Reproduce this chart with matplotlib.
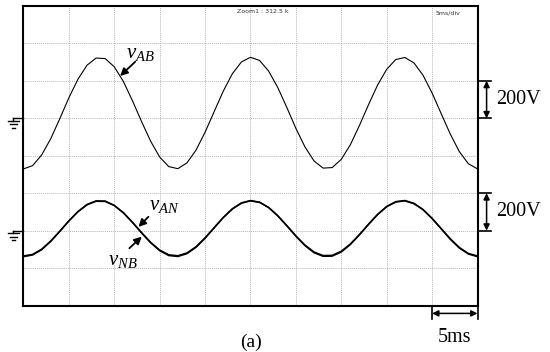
import numpy as np
import matplotlib
matplotlib.use('Agg')
import matplotlib.pyplot as plt

plt.rcParams['font.family'] = 'Liberation Serif'
plt.rcParams['mathtext.fontset'] = 'custom'
plt.rcParams['mathtext.rm'] = 'Liberation Serif'
plt.rcParams['mathtext.it'] = 'Liberation Serif:italic'

# scope trace samples (1 ms steps, volts)
t_ms = list(range(51))
v_ab = [-270, -253, -196, -109, -2, 110, 209, 284, 322, 319, 275, 197, 94, -17, -122, -207, -258,
        -269, -238, -170, -74, 36, 145, 238, 301, 326, 309, 252, 165, 58, -54, -153, -228, -266,
        -263, -219, -141, -38, 73, 178, 262, 314, 325, 296, 230, 135, 25, -84, -178, -243, -270]
v_an = [-139, -130, -102, -58, -4, 52, 102, 140, 159, 158, 135, 96, 44, -12, -65, -107, -133,
        -138, -123, -89, -41, 15, 70, 117, 148, 161, 152, 124, 80, 26, -30, -80, -118, -137,
        -136, -114, -74, -22, 34, 87, 129, 155, 161, 146, 113, 65, 10, -46, -93, -125, -139]
v_nb = [-135, -127, -99, -55, -3, 52, 101, 138, 157, 156, 134, 95, 45, -10, -62, -104, -129,
        -134, -119, -86, -38, 16, 70, 115, 147, 159, 151, 123, 79, 27, -28, -77, -114, -133,
        -132, -110, -71, -21, 34, 86, 128, 153, 159, 144, 112, 65, 11, -43, -90, -122, -135]

volts_per_div = 200
ms_per_div = 5
gnd_ch1 = 1
gnd_ch2 = -2

fig = plt.figure(figsize=(5.5, 3.52), dpi=100)
ax = fig.add_axes([0.0427, 0.132, 0.8255, 0.851])

ax.plot(t_ms, gnd_ch1 + np.array(v_ab) / volts_per_div, color='black', lw=0.8,
        solid_joinstyle='round')
ax.plot(t_ms, gnd_ch2 + np.array(v_an) / volts_per_div, color='black', lw=1.1,
        solid_joinstyle='round')
ax.plot(t_ms, gnd_ch2 + np.array(v_nb) / volts_per_div, color='black', lw=1.1,
        solid_joinstyle='round')

ax.set_xlim(0, 10 * ms_per_div)
ax.set_ylim(-4, 4)
ax.set_xticks(np.arange(0, 10 * ms_per_div + 1, ms_per_div))
ax.set_yticks(np.arange(-4, 5, 1))
ax.tick_params(length=0, labelbottom=False, labelleft=False)
ax.grid(True, color='#b8b8b8', ls=(0, (1, 1)), lw=0.7)
for s in ax.spines.values():
    s.set_linewidth(1.5)

# ground markers on the left
for g in (gnd_ch1, gnd_ch2):
    ax.plot([-1.1, 0], [g, g], color='black', lw=1.0, clip_on=False)
    ax.plot([-1.1, -1.1], [g, g - 0.07], color='black', lw=1.0, clip_on=False)
    for dy, hw in ((0.07, 0.58), (0.16, 0.36), (0.25, 0.17)):
        ax.plot([-1.1 - hw, -1.1 + hw], [g - dy, g - dy], color='black', lw=1.0, clip_on=False)

# 200V scale bars on the right
for g in (gnd_ch1, gnd_ch2):
    for yy in (g, g + 1):
        ax.plot([50.05, 51.5], [yy, yy], color='black', lw=1.2, clip_on=False)
    ax.annotate('', xy=(51.0, g + 1), xytext=(51.0, g), annotation_clip=False,
                arrowprops=dict(arrowstyle='<|-|>', color='black', lw=1.1,
                                mutation_scale=9, shrinkA=0, shrinkB=0))
    ax.text(52.0, g + 0.5, '200V', fontsize=14.5, ha='left', va='center')

# 5ms scale bar
for xx in (45, 50):
    ax.plot([xx, xx], [-4, -4.37], color='black', lw=1.2, clip_on=False)
ax.annotate('', xy=(50, -4.21), xytext=(45, -4.21), annotation_clip=False,
            arrowprops=dict(arrowstyle='<|-|>', color='black', lw=1.1,
                            mutation_scale=9, shrinkA=0, shrinkB=0))
ax.text(47.5, -4.85, '5ms', fontsize=14.5, ha='center', va='center')
ax.text(25.1, -4.97, '(a)', fontsize=14, ha='center', va='center')

# scope header texts
ax.text(26.4, 3.86, 'Zoom1 : 312.5 k', fontsize=4.5, family='DejaVu Sans',
        color='#333333', ha='center', va='center')
ax.text(46.8, 3.82, '5ms/div', fontsize=4.5, family='DejaVu Sans',
        color='#333333', ha='center', va='center')

# trace labels
arrow = dict(arrowstyle='-|>', color='black', lw=1.3, mutation_scale=11, shrinkA=0, shrinkB=0)
ax.text(11.3, 2.72, '$v_{AB}$', fontsize=15, ha='left', va='center')
ax.annotate('', xy=(10.64, 2.13), xytext=(12.3, 2.51), arrowprops=arrow)
ax.text(13.8, -1.32, '$v_{AN}$', fontsize=15, ha='left', va='center')
ax.annotate('', xy=(12.66, -1.9), xytext=(13.76, -1.63), arrowprops=arrow)
ax.text(9.35, -2.79, '$v_{NB}$', fontsize=15, ha='left', va='center')
ax.annotate('', xy=(13.03, -2.16), xytext=(11.66, -2.47), arrowprops=arrow)

fig.savefig('out.png', dpi=100)
